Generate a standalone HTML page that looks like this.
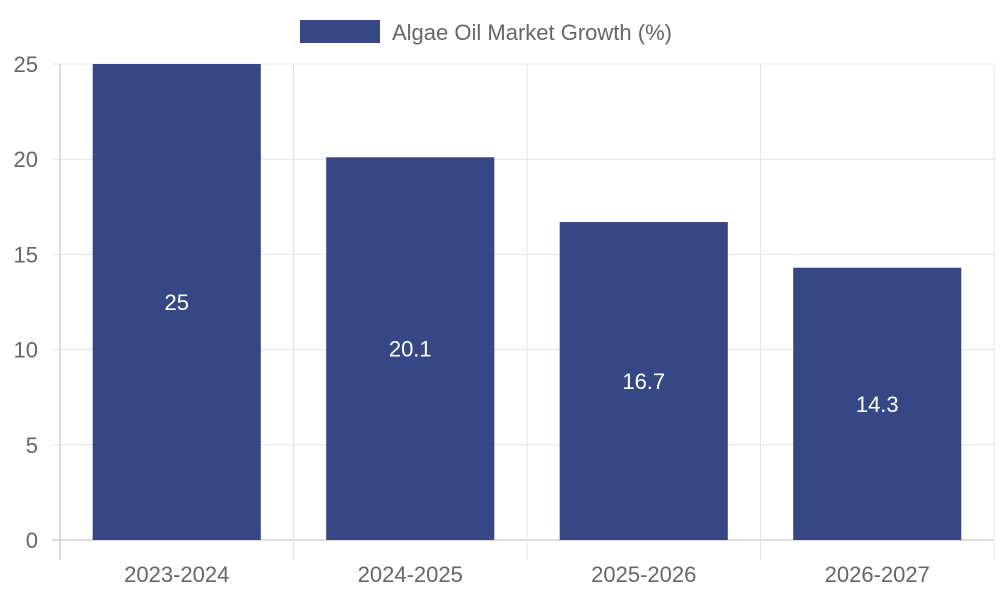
<!DOCTYPE html>
<html><head><meta charset="utf-8"><style>
html,body{margin:0;padding:0;background:#fff;}
svg{display:block;font-family:"Liberation Sans",sans-serif;}
</style></head><body>
<svg id="chart" width="1000" height="600">
<g>
<rect x="300" y="20" width="80" height="23" fill="#374785"/>
<text x="392" y="40" font-size="22" fill="#666">Algae Oil Market Growth (%)</text>
</g>
<g id="grid"></g><g id="bars"></g><g id="labels"></g>
</svg>
<script>
const categories=["2023-2024","2024-2025","2025-2026","2026-2027"];
const values=[25,20.1,16.7,14.3];
const yTicks=[0,5,10,15,20,25];
const L=60,R=994,T=64,B=540,yMax=25;
const y=v=>B-(v/yMax)*(B-T);
const bw=(R-L)/categories.length;
const x=i=>L+bw*i;
const NS="http://www.w3.org/2000/svg";
function mk(t,a,p,txt){const e=document.createElementNS(NS,t);for(const k in a)e.setAttribute(k,a[k]);if(txt!==undefined)e.textContent=txt;p.appendChild(e);return e;}
const g=document.getElementById('grid'),bg=document.getElementById('bars'),lg=document.getElementById('labels');
yTicks.forEach(t=>{
 const l=mk('line',{x1:L-8,x2:R,y1:y(t),y2:y(t),stroke:t===0?'#bbb':'#e4e4e4','stroke-width':1},g);
 
 
 const tx=mk('text',{x:L-22,y:y(t)+8,'font-size':22,fill:'#666','text-anchor':'end'},g,String(t));
 
 
});
for(let i=0;i<=categories.length;i++){
 const l=mk('line',{x1:x(i),x2:x(i),y1:T,y2:B+20,stroke:i===0?'#bbb':'#e4e4e4','stroke-width':1},g);
 
 
}
categories.forEach((c,i)=>{
 const w=bw*0.72,cx=x(i)+bw/2;
 const r=mk('rect',{x:cx-w/2,y:y(values[i]),width:w,height:B-y(values[i]),fill:'#374785'},bg);
 
 
 const v=mk('text',{x:cx,y:(y(values[i])+B)/2+8,'font-size':22,fill:'#fff','text-anchor':'middle'},lg,String(values[i]));
 
 
 const t=mk('text',{x:cx,y:582,'font-size':22,fill:'#666','text-anchor':'middle'},lg,c);
 
 
});
</script>
</body></html>
